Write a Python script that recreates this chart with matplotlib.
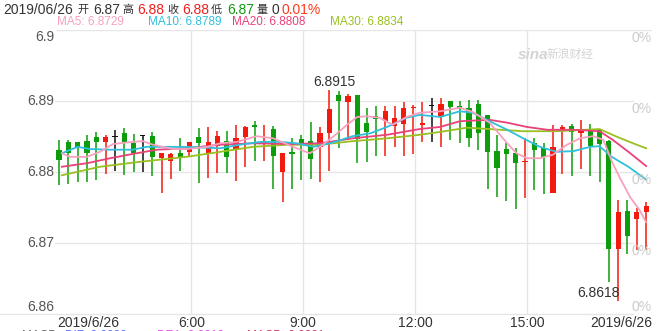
import numpy as np
import matplotlib
matplotlib.use('Agg')
import matplotlib.pyplot as plt

plt.rcParams['font.family'] = ['Liberation Sans', 'Noto Sans CJK SC', 'DejaVu Sans']

#------------------------------------------------------------------------------
# Data: 15-minute candles, 2019/06/26
#------------------------------------------------------------------------------
opens = [6.8831, 6.8842, 6.8842, 6.8843, 6.8849, 6.8842, 6.8849, 6.8855, 6.8840, 6.8850,
         6.8850, 6.8819, 6.8815, 6.8826, 6.8828, 6.8849, 6.8826, 6.8836, 6.8843, 6.8831,
         6.8849, 6.8866, 6.8840, 6.8860, 6.8800, 6.8828, 6.8846, 6.8843, 6.8835, 6.8854,
         6.8908, 6.8898, 6.8908, 6.8869, 6.8878, 6.8871, 6.8864, 6.8867, 6.8890, 6.8866,
         6.8892, 6.8877, 6.8899, 6.8892, 6.8889, 6.8895, 6.8880, 6.8829, 6.8832, 6.8826,
         6.8814, 6.8840, 6.8833, 6.8770, 6.8859, 6.8864, 6.8854, 6.8859, 6.8860, 6.8843,
         6.8691, 6.8745, 6.8734, 6.8743]
highs = [6.8845, 6.8845, 6.8842, 6.8852, 6.8856, 6.8852, 6.8859, 6.8862, 6.8853, 6.8852,
         6.8856, 6.8826, 6.8826, 6.8847, 6.8842, 6.8861, 6.8863, 6.8857, 6.8857, 6.8866,
         6.8864, 6.8871, 6.8866, 6.8864, 6.8826, 6.8847, 6.8852, 6.8870, 6.8863, 6.8915,
         6.8914, 6.8909, 6.8908, 6.8890, 6.8892, 6.8892, 6.8892, 6.8898, 6.8894, 6.8898,
         6.8904, 6.8904, 6.8899, 6.8899, 6.8901, 6.8901, 6.8880, 6.8851, 6.8840, 6.8833,
         6.8847, 6.8847, 6.8840, 6.8866, 6.8866, 6.8867, 6.8873, 6.8867, 6.8860, 6.8845,
         6.8760, 6.8760, 6.8749, 6.8757]
lows = [6.8781, 6.8783, 6.8785, 6.8786, 6.8788, 6.8797, 6.8801, 6.8795, 6.8800, 6.8800,
        6.8794, 6.8770, 6.8790, 6.8801, 6.8821, 6.8784, 6.8791, 6.8798, 6.8798, 6.8787,
        6.8806, 6.8815, 6.8815, 6.8776, 6.8758, 6.8776, 6.8788, 6.8790, 6.8786, 6.8801,
        6.8834, 6.8845, 6.8812, 6.8814, 6.8822, 6.8822, 6.8835, 6.8822, 6.8825, 6.8842,
        6.8842, 6.8835, 6.8845, 6.8840, 6.8835, 6.8831, 6.8776, 6.8764, 6.8759, 6.8748,
        6.8763, 6.8774, 6.8769, 6.8770, 6.8797, 6.8794, 6.8804, 6.8794, 6.8786, 6.8645,
        6.8618, 6.8684, 6.8690, 6.8690]
closes = [6.8817, 6.8826, 6.8835, 6.8826, 6.8842, 6.8849, 6.8849, 6.8842, 6.8826, 6.8850,
          6.8821, 6.8826, 6.8825, 6.8819, 6.8842, 6.8840, 6.8842, 6.8850, 6.8821, 6.8847,
          6.8863, 6.8863, 6.8841, 6.8822, 6.8826, 6.8825, 6.8840, 6.8818, 6.8854, 6.8888,
          6.8899, 6.8906, 6.8846, 6.8856, 6.8874, 6.8885, 6.8876, 6.8889, 6.8891, 6.8869,
          6.8892, 6.8895, 6.8891, 6.8888, 6.8847, 6.8854, 6.8828, 6.8805, 6.8825, 6.8813,
          6.8815, 6.8830, 6.8821, 6.8835, 6.8863, 6.8856, 6.8857, 6.8836, 6.8839, 6.8691,
          6.8743, 6.8710, 6.8743, 6.8752]

# moving averages (x = candle position)
ma5_x = [0.3, 1.2, 3.0, 4.4, 5.8, 7.9, 9.0, 10.1, 12.2, 13.7, 15.9, 17.3, 19.1, 21.2, 23.0,
         25.1, 26.9, 28.0, 29.4, 30.9, 32.0, 33.0, 34.4, 35.8, 37.3, 38.7, 40.9, 43.0, 44.4,
         46.2, 48.1, 49.1, 50.2, 51.6, 53.0, 54.5, 55.9, 57.3, 58.4, 59.4, 60.2, 61.3, 62.3, 63.0]
ma5_y = [6.8826, 6.8821, 6.8821, 6.8828, 6.8839, 6.8842, 6.8843, 6.8838, 6.8832, 6.8832,
         6.8835, 6.8840, 6.8842, 6.8850, 6.8847, 6.8835, 6.8826, 6.8835, 6.8849, 6.8866,
         6.8877, 6.8878, 6.8876, 6.8866, 6.8877, 6.8883, 6.8885, 6.8890, 6.8884, 6.8869,
         6.8840, 6.8826, 6.8819, 6.8819, 6.8824, 6.8838, 6.8847, 6.8850, 6.8845, 6.8812,
         6.8791, 6.8764, 6.8746, 6.8729]
ma10_x = [0.3, 2.0, 3.3, 5.5, 7.9, 9.4, 13.7, 17.3, 19.4, 21.6, 23.7, 25.5, 27.3, 29.1,
          31.5, 33.4, 35.2, 37.3, 38.7, 40.9, 43.0, 44.4, 46.2, 48.1, 49.8, 51.6, 53.4,
          55.2, 57.0, 58.0, 59.3, 61.1, 63.0]
ma10_y = [6.8826, 6.8835, 6.8832, 6.8831, 6.8831, 6.8835, 6.8835, 6.8833, 6.8838, 6.8842,
          6.8842, 6.8840, 6.8835, 6.8840, 6.8850, 6.8854, 6.8863, 6.8876, 6.8880, 6.8877,
          6.8885, 6.8883, 6.8871, 6.8859, 6.8847, 6.8835, 6.8828, 6.8829, 6.8835, 6.8836,
          6.8821, 6.8807, 6.8789]
ma20_x = [0.3, 3.0, 5.5, 7.9, 10.5, 13.7, 17.3, 20.8, 24.5, 28.0, 31.5, 35.2, 38.7, 40.9,
          43.0, 46.2, 48.1, 50.2, 52.4, 55.2, 58.0, 59.4, 61.3, 63.0]
ma20_y = [6.8807, 6.8812, 6.8819, 6.8825, 6.8831, 6.8833, 6.8838, 6.8840, 6.8839, 6.8840,
          6.8847, 6.8852, 6.8860, 6.8863, 6.8871, 6.8873, 6.8869, 6.8863, 6.8859, 6.8859,
          6.8857, 6.8845, 6.8826, 6.8808]
ma30_x = [0.3, 4.4, 8.7, 13.7, 17.3, 20.8, 24.5, 28.0, 31.5, 35.2, 38.7, 40.9, 43.8, 46.2,
          49.8, 53.4, 58.0, 59.9, 61.6, 63.0]
ma30_y = [6.8795, 6.8807, 6.8814, 6.8821, 6.8828, 6.8835, 6.8838, 6.8838, 6.8843, 6.8847,
          6.8852, 6.8856, 6.8862, 6.8860, 6.8857, 6.8857, 6.8860, 6.8849, 6.8840, 6.8833]

price_ticks = [6.9, 6.89, 6.88, 6.87, 6.86]
price_labels = ['6.9', '6.89', '6.88', '6.87', '6.86']
time_hours = [6, 9, 12, 15]
time_labels = ['6:00', '9:00', '12:00', '15:00']
date_label = '2019/6/26'
first_hour = 2.45  # time of first candle

header = [('2019/06/26', '#333333'), ('开', '#333333'), ('6.87', '#333333'),
          ('高', '#333333'), ('6.88', '#f01e1e'), ('收', '#333333'), ('6.88', '#f01e1e'),
          ('低', '#333333'), ('6.87', '#119911'), ('量', '#333333'), ('0', '#333333'),
          ('0.01%', '#ff3a1a')]
header_x = [3, 77, 93, 122, 137, 167, 182, 211, 227, 256, 271, 281]
ma_legend = ['MA5: 6.8729', 'MA10: 6.8789', 'MA20: 6.8808', 'MA30: 6.8834']
ma_legend_x = [57, 148, 232, 330]
macd_legend = [('MACD', '#666666'), ('DIF: 0.0020', '#5a6cff'), ('DEA: 0.0010', '#ee44ee'),
               ('MACD: 0.0021', '#e03060')]
macd_legend_x = [22, 65, 157, 247]

c_red = '#f21a0e'
c_green = '#0c9c0c'
c_ma5 = '#f7a1bf'
c_ma10 = '#2ec0dc'
c_ma20 = '#e9417a'
c_ma30 = '#99c020'
grid_c = '#e6e6e6'

#------------------------------------------------------------------------------
# Figure
#------------------------------------------------------------------------------
W, H = 658, 331
fig = plt.figure(figsize=(W / 100, H / 100), dpi=100)
ax = fig.add_axes([55 / W, 17 / H, 597 / W, 284.5 / H])
ax.set_xlim(-0.43, 63.63)
ax.set_ylim(6.86, 6.9)
ax.axis('off')

def fx(x):
    return x / W

def fy(y):
    return 1 - y / H

# grid
gx = (633 - 55) / 597
for p in price_ticks[1:4]:
    ax.axhline(p, xmin=0, xmax=gx, color=grid_c, lw=1, zorder=0)
ax.axhline(6.9, xmin=2 / 597, xmax=1, color=grid_c, lw=1, zorder=0)
ax.axhline(6.86, xmin=-55 / 597, xmax=gx, color=grid_c, lw=1, zorder=0, clip_on=False)
tick_pos = [(h - first_hour) * 4 for h in time_hours]
ax.vlines(tick_pos, 6.86, 6.9, color=grid_c, lw=1, zorder=0)

# candles
idx = np.arange(len(opens))
o = np.array(opens)
c = np.array(closes)
cols = np.where(c > o, c_red, np.where(c < o, c_green, '#111111'))
ax.vlines(idx, lows, highs, colors=cols, lw=1.1, zorder=2)
body_h = np.maximum(np.abs(c - o), 0.00013)
ax.bar(idx, body_h, bottom=np.minimum(o, c), width=0.56, color=cols, lw=0, zorder=2)

# moving averages
ax.plot(ma30_x, ma30_y, color=c_ma30, lw=1.3, zorder=3)
ax.plot(ma20_x, ma20_y, color=c_ma20, lw=1.3, zorder=3)
ax.plot(ma10_x, ma10_y, color=c_ma10, lw=1.3, zorder=3)
ax.plot(ma5_x, ma5_y, color=c_ma5, lw=1.3, zorder=3)

# high / low marks
hi = int(np.argmax(highs))
lo = int(np.argmin(lows))
ax.annotate('%.4f' % highs[hi], (hi, highs[hi]), xytext=(5, 1), textcoords='offset pixels',
            ha='center', va='bottom', fontsize=10, color='#333333')
ax.annotate('%.4f' % lows[lo], (lo, lows[lo]), xytext=(1, 1), textcoords='offset pixels',
            ha='right', va='bottom', fontsize=10, color='#333333')

# price labels, left and right
for i, (p, lab) in enumerate(zip(price_ticks, price_labels)):
    if i == 0:
        off = -7.5
    elif i == len(price_ticks) - 1:
        off = 7
    else:
        off = 0
    ax.annotate(lab, (0, p), xycoords=('axes fraction', 'data'), xytext=(-1, off),
                textcoords='offset pixels', ha='right', va='center', fontsize=10,
                color='#555555', annotation_clip=False)
    off_r = 7 if i == len(price_ticks) - 1 else -8
    ax.annotate('0%', (1, p), xycoords=('axes fraction', 'data'), xytext=(0, off_r),
                textcoords='offset pixels', ha='right', va='center', fontsize=10,
                color='#cccccc', annotation_clip=False)

# time labels
for t, lab in zip(tick_pos, time_labels):
    ax.annotate(lab, (t, 6.86), xytext=(0, -9), textcoords='offset pixels',
                ha='center', va='center', fontsize=10, color='#333333', annotation_clip=False)
fig.text(fx(57), fy(323), date_label, ha='left', va='center', fontsize=10, color='#333333')
fig.text(fx(652), fy(323), date_label, ha='right', va='center', fontsize=10, color='#333333')

# header lines
for (txt, col), x in zip(header, header_x):
    size = 10 if txt[0].isascii() else 8
    fig.text(fx(x), fy(10), txt, ha='left', va='center', fontsize=size, color=col)
for txt, x, col in zip(ma_legend, ma_legend_x, [c_ma5, c_ma10, c_ma20, c_ma30]):
    fig.text(fx(x), fy(22), txt, ha='left', va='center', fontsize=8.5, color=col)
# MACD legend row, only its top shows at the bottom edge
for (txt, col), x in zip(macd_legend, macd_legend_x):
    fig.text(fx(x), fy(336), txt, ha='left', va='center', fontsize=8.5, color=col)

# watermark
fig.text(fx(518), fy(55), 'sina', ha='left', va='center', fontsize=11, color='#d4d4d4',
         fontweight='bold', style='italic')
fig.text(fx(547), fy(55), '新浪财经', ha='left', va='center', fontsize=8.5, color='#d4d4d4',
         style='italic')

fig.savefig('out.png', dpi=100)
